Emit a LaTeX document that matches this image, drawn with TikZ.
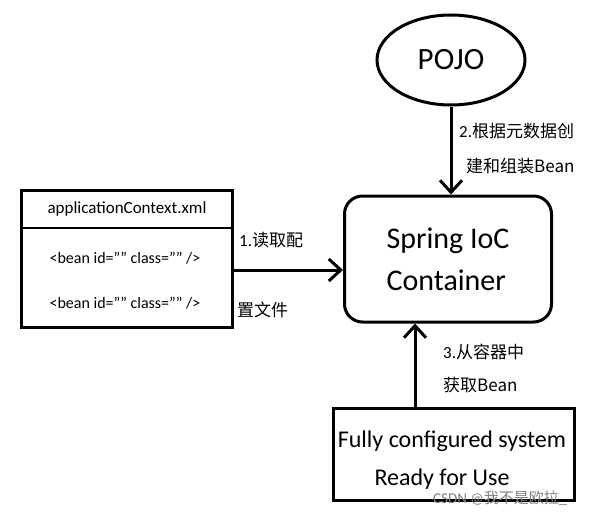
\documentclass[tikz,border=0pt]{standalone}
\usepackage{fontspec}
\setmainfont{Carlito}
\newfontfamily\cjk{Noto Sans CJK SC}
\usetikzlibrary{shapes.geometric,arrows.meta}
\newcommand{\qq}{\symbol{34}\symbol{34}}
\begin{document}
\begin{tikzpicture}[x=1pt,y=-1pt,
  arr/.style={line width=3pt,-{Straight Barb[length=12pt,width=22pt,line width=3pt]}},
  lbl/.style={font=\fontsize{17}{17}\selectfont,anchor=west,inner sep=0}]
\useasboundingbox (0,0) rectangle (600,519);
\clip (0,0) rectangle (600,519);
\fill[white] (0,0) rectangle (600,519);
\node[ellipse,draw,line width=3pt,minimum width=148pt,minimum height=90pt,font=\fontsize{31}{31}\selectfont] (pojo) at (451,60) {POJO};
\node[draw,line width=3pt,rounded corners=18pt,minimum width=207pt,minimum height=126pt,align=left,font=\fontsize{30}{42}\selectfont] (spring) at (448,259) {Spring IoC\\Container};
\node[draw,line width=3pt,minimum width=211pt,minimum height=137pt] (xml) at (127,259) {};
\draw[line width=2pt] (21,228) -- (232,228);
\node[font=\fontsize{17}{17}\selectfont] (x1) at (127,209) {applicationContext.xml};
\node[font=\fontsize{16}{16}\selectfont] (x2) at (125,258) {<bean id=\qq{} class=\qq{} />};
\node[font=\fontsize{16}{16}\selectfont] (x3) at (125,303) {<bean id=\qq{} class=\qq{} />};
\node[draw,line width=3pt,minimum width=241pt,minimum height=92pt] (sys) at (454,454) {};
\node[font=\fontsize{24}{24}\selectfont] (s1) at (452,441) {Fully configured system};
\node[font=\fontsize{24}{24}\selectfont] (s2) at (442,479) {Ready for Use};
\draw[arr] (xml.east |- 0,270) -- (spring.west |- 0,270);
\draw[arr] (pojo.south) -- (spring.north -| pojo.south);
\draw[arr] (sys.north -| 415,0) -- (spring.south -| 415,0);
\node[lbl] (l1a) at (239,240) {1.\cjk 读取配};
\node[lbl] (l1b) at (237,310) {\cjk 置文件};
\node[lbl] (l2a) at (459,131) {2.\cjk 根据元数据创};
\node[lbl] (l2b) at (466,166) {\cjk 建和组装Bean};
\node[lbl] (l3a) at (443,352) {3.\cjk 从容器中};
\node[lbl] (l3b) at (443,385) {\cjk 获取Bean};
\node[lbl,font=\fontsize{15}{15}\selectfont,text=gray] (wm) at (433,498) {CSDN @\cjk 我不是欧拉\_};
\end{tikzpicture}
\end{document}
